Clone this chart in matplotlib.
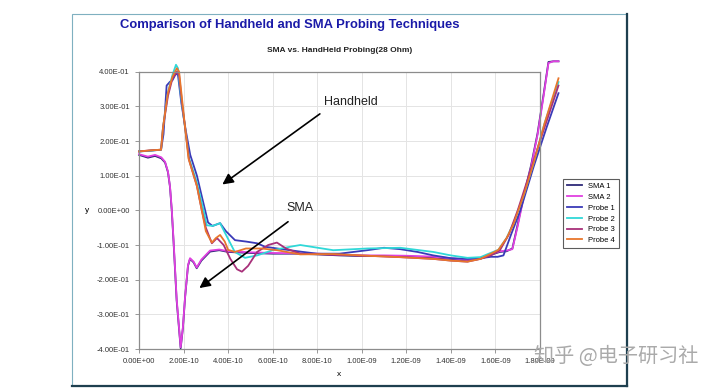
import numpy as np
import matplotlib.pyplot as plt
from matplotlib.patches import Rectangle
from matplotlib.ticker import FuncFormatter, MultipleLocator

# traced values (x in units of 1e-10 s)
sma_x = [0, 0.4, 0.72, 1.0, 1.17, 1.3, 1.39, 1.47, 1.55, 1.69, 1.87, 1.97, 2.07, 2.2, 2.29,
         2.45, 2.59, 2.8, 3.19, 3.6, 4.0, 5.0, 6.0, 7.0, 8.0, 9.0, 10.0, 11.0, 12.0, 13.0,
         14.0, 14.7, 15.3, 15.8, 16.2, 16.5, 16.76, 17.0, 17.26, 17.6, 17.89, 18.15, 18.38,
         18.6, 18.83]
sma1_y = [0.16, 0.152, 0.157, 0.15, 0.138, 0.11, 0.068, 0.0, -0.09, -0.26, -0.398, -0.34,
          -0.25, -0.16, -0.14, -0.15, -0.167, -0.145, -0.119, -0.115, -0.12, -0.123, -0.125,
          -0.125, -0.127, -0.13, -0.132, -0.132, -0.133, -0.135, -0.14, -0.145, -0.14,
          -0.128, -0.12, -0.118, -0.11, -0.04, 0.04, 0.13, 0.222, 0.33, 0.428, 0.43, 0.43]
sma2_y = [0.162, 0.155, 0.16, 0.153, 0.14, 0.112, 0.07, 0.004, -0.085, -0.255, -0.395,
          -0.338, -0.248, -0.158, -0.138, -0.148, -0.165, -0.142, -0.116, -0.113, -0.118,
          -0.121, -0.123, -0.124, -0.125, -0.128, -0.13, -0.13, -0.131, -0.133, -0.138,
          -0.143, -0.138, -0.126, -0.118, -0.116, -0.112, -0.045, 0.035, 0.125, 0.218,
          0.325, 0.425, 0.43, 0.43]

p1_x = [0, 0.5, 0.99, 1.1, 1.24, 1.39, 1.5, 1.66, 1.75, 1.9, 2.1, 2.3, 2.6, 2.82, 3.1, 3.3,
        3.64, 3.9, 4.31, 4.8, 5.3, 5.66, 6.2, 7.24, 8.0, 9.0, 10.25, 11.0, 11.73, 12.5,
        13.21, 14.0, 14.74, 15.33, 15.8, 16.1, 16.36, 16.7, 17.12, 17.71, 18.3, 18.83]
p1_y = [0.17, 0.172, 0.175, 0.22, 0.36, 0.371, 0.375, 0.395, 0.39, 0.31, 0.23, 0.16, 0.1,
        0.04, -0.035, -0.045, -0.037, -0.06, -0.086, -0.09, -0.095, -0.105, -0.11, -0.119,
        -0.125, -0.125, -0.115, -0.108, -0.112, -0.12, -0.13, -0.138, -0.14, -0.138,
        -0.134, -0.134, -0.13, -0.07, 0.0, 0.125, 0.24, 0.338]

p2_x = [0, 0.5, 0.99, 1.08, 1.3, 1.5, 1.66, 1.75, 1.9, 2.25, 2.6, 2.9, 3.04, 3.3, 3.64,
        3.9, 4.3, 4.76, 5.3, 6.0, 6.79, 7.24, 8.72, 10.25, 11.73, 13.21, 14.0, 14.74,
        15.33, 15.7, 16.13, 16.5, 16.81, 17.3, 17.71, 18.2, 18.83]
p2_y = [0.17, 0.172, 0.175, 0.24, 0.34, 0.39, 0.42, 0.41, 0.32, 0.15, 0.08, 0.0, -0.043,
        -0.045, -0.037, -0.07, -0.12, -0.137, -0.13, -0.115, -0.105, -0.1, -0.115, -0.11,
        -0.108, -0.12, -0.13, -0.137, -0.135, -0.125, -0.114, -0.08, -0.037, 0.05, 0.136,
        0.25, 0.37]

p3_x = [0, 0.5, 0.99, 1.08, 1.3, 1.5, 1.7, 1.8, 1.95, 2.25, 2.6, 2.82, 3.0, 3.27, 3.5, 3.8,
        4.1, 4.4, 4.62, 4.9, 5.3, 5.8, 6.19, 6.6, 7.24, 8.72, 10.25, 11.73, 13.21, 14.0,
        14.74, 15.33, 15.8, 16.2, 16.6, 17.0, 17.5, 18.0, 18.83]
p3_y = [0.17, 0.173, 0.175, 0.24, 0.33, 0.38, 0.40, 0.39, 0.3, 0.145, 0.07, 0.0, -0.05,
        -0.095, -0.08, -0.1, -0.14, -0.17, -0.177, -0.16, -0.12, -0.1, -0.093, -0.11,
        -0.125, -0.128, -0.131, -0.135, -0.14, -0.145, -0.148, -0.14, -0.13, -0.115,
        -0.07, 0.0, 0.1, 0.2, 0.36]

p4_x = [0, 0.5, 0.99, 1.08, 1.3, 1.5, 1.7, 1.8, 1.95, 2.22, 2.6, 2.82, 3.0, 3.27, 3.45,
        3.64, 3.85, 4.0, 4.31, 4.8, 5.5, 6.2, 7.24, 8.72, 10.25, 11.73, 13.21, 14.0, 14.74,
        15.33, 15.8, 16.13, 16.5, 16.81, 17.3, 17.71, 18.2, 18.83]
p4_y = [0.17, 0.173, 0.175, 0.24, 0.34, 0.385, 0.41, 0.4, 0.31, 0.15, 0.07, 0.0, -0.06,
        -0.093, -0.08, -0.071, -0.09, -0.114, -0.12, -0.11, -0.11, -0.115, -0.127, -0.126,
        -0.131, -0.135, -0.14, -0.145, -0.148, -0.14, -0.125, -0.114, -0.08, -0.04, 0.05,
        0.136, 0.25, 0.381]

series = [
    ("SMA 1", sma_x, sma1_y, "#2e2a78"),
    ("SMA 2", sma_x, sma2_y, "#e040e0"),
    ("Probe 1", p1_x, p1_y, "#3a3ab8"),
    ("Probe 2", p2_x, p2_y, "#30d8d8"),
    ("Probe 3", p3_x, p3_y, "#a8307a"),
    ("Probe 4", p4_x, p4_y, "#e8762c"),
]

fig = plt.figure(figsize=(7.23, 3.92), dpi=100)
plt.rcParams['font.family'] = ['Liberation Sans', 'DejaVu Sans']

# outer chart frame
fig.patches.append(Rectangle((72 / 723, 1 - 386 / 392), 555 / 723, 372 / 392,
                             transform=fig.transFigure, fill=False,
                             edgecolor="#7fb0c0", linewidth=0.8))
fig.add_artist(plt.Line2D([72 / 723, 627 / 723], [1 - 386 / 392] * 2,
                          transform=fig.transFigure, color="#1e3f4f", lw=1.6))
fig.add_artist(plt.Line2D([627 / 723] * 2, [1 - 386 / 392, 1 - 14 / 392],
                          transform=fig.transFigure, color="#1e3f4f", lw=1.6))

ax = fig.add_axes([139 / 723, 1 - 349 / 392, 401 / 723, 277.3 / 392])

for name, xs, ys, col in series:
    ax.plot(np.array(xs) * 1e-10, ys, color=col, lw=1.3, label=name, clip_on=False)

ax.set_xlim(0, 1.8e-9)
ax.set_ylim(-0.4, 0.4)
ax.xaxis.set_major_locator(MultipleLocator(2e-10))
ax.yaxis.set_major_locator(MultipleLocator(0.1))
fmt = FuncFormatter(lambda v, pos: f"{v:.2E}")
ax.xaxis.set_major_formatter(fmt)
ax.yaxis.set_major_formatter(fmt)
ax.tick_params(labelsize=5.5, colors="#333333", length=3, width=0.6)
ax.tick_params(color="#888888")
ax.grid(True, color="#e4e4e4", lw=0.7)
ax.set_axisbelow(True)
for s in ax.spines.values():
    s.set_color("#8c8c8c")
    s.set_linewidth(0.9)

ax.set_xlabel("x", fontsize=6, labelpad=4)
ax.set_ylabel("y", fontsize=6, rotation=0, labelpad=7, va="center")

fig.text(120 / 723, 1 - 25 / 392, "Comparison of Handheld and SMA Probing Techniques",
         fontsize=9.4, fontweight="bold", color="#1a1aa8", va="center")
fig.text(340 / 723, 1 - 51 / 392, "SMA vs. HandHeld Probing(28 Ohm)",
         fontsize=6, fontweight="bold", color="#222222", ha="center", va="center")

ax.annotate("", xy=(3.64e-10, 0.070), xytext=(8.22e-10, 0.283),
            arrowprops=dict(arrowstyle="-|>", color="black", lw=1.2, mutation_scale=16))
ax.text(9.53e-10, 0.312, "Handheld", fontsize=9, color="#222222", ha="center", va="center")
ax.annotate("", xy=(2.61e-10, -0.229), xytext=(6.79e-10, -0.028),
            arrowprops=dict(arrowstyle="-|>", color="black", lw=1.2, mutation_scale=16))
ax.text(7.24e-10, 0.007, "SMA", fontsize=9, color="#222222", ha="center", va="center")

leg = ax.legend(loc="upper left", bbox_to_anchor=(563 / 723, 1 - 179 / 392),
                bbox_transform=fig.transFigure, fontsize=5.5, frameon=True, fancybox=False,
                borderaxespad=0, handlelength=2.0, labelspacing=0.45, borderpad=0.5)
leg.get_frame().set_edgecolor("#333333")
leg.get_frame().set_linewidth(0.8)

fig.text(616 / 723, 1 - 356 / 392, "知乎 @电子研习社", fontsize=14.5, color="#aaaaaa",
         ha="center", va="center", family=["Noto Sans CJK SC", "DejaVu Sans"])

fig.savefig("out.png", dpi=100)
